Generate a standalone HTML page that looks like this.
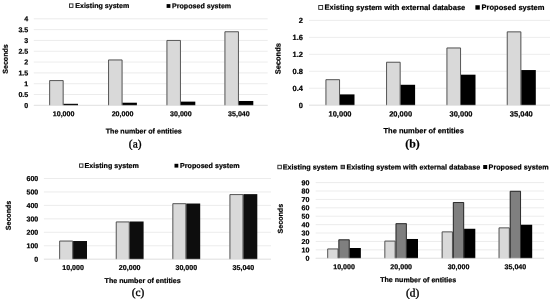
<!DOCTYPE html>
<html><head><meta charset="utf-8"><title>Charts</title>
<style>
html,body{margin:0;padding:0;background:#fff;}
body{width:550px;height:301px;overflow:hidden;}
svg{display:block;} text{text-rendering:geometricPrecision;stroke:#000;stroke-width:0.22px;stroke-linejoin:round;} svg{font-family:"Liberation Sans", Arial, sans-serif;font-weight:bold;fill:#000;}
</style></head><body>
<svg width="550" height="301" viewBox="0 0 550 301">
<rect x="0" y="0" width="550" height="301" fill="#fff"/>
<line x1="33.80" x2="267.70" y1="105.35" y2="105.35" stroke="#d9d9d9" stroke-width="0.5"/>
<line x1="33.80" x2="267.70" y1="94.53" y2="94.53" stroke="#d9d9d9" stroke-width="0.5"/>
<line x1="33.80" x2="267.70" y1="83.71" y2="83.71" stroke="#d9d9d9" stroke-width="0.5"/>
<line x1="33.80" x2="267.70" y1="72.89" y2="72.89" stroke="#d9d9d9" stroke-width="0.5"/>
<line x1="33.80" x2="267.70" y1="62.07" y2="62.07" stroke="#d9d9d9" stroke-width="0.5"/>
<line x1="33.80" x2="267.70" y1="51.26" y2="51.26" stroke="#d9d9d9" stroke-width="0.5"/>
<line x1="33.80" x2="267.70" y1="40.44" y2="40.44" stroke="#d9d9d9" stroke-width="0.5"/>
<line x1="33.80" x2="267.70" y1="29.62" y2="29.62" stroke="#d9d9d9" stroke-width="0.5"/>
<line x1="33.80" x2="267.70" y1="18.80" y2="18.80" stroke="#d9d9d9" stroke-width="0.5"/>
<text transform="translate(28.30,107.89) rotate(0.05)" font-size="7.1" text-anchor="end">0</text>
<text transform="translate(28.30,97.07) rotate(0.05)" font-size="7.1" text-anchor="end">0.5</text>
<text transform="translate(28.30,86.25) rotate(0.05)" font-size="7.1" text-anchor="end">1</text>
<text transform="translate(28.30,75.44) rotate(0.05)" font-size="7.1" text-anchor="end">1.5</text>
<text transform="translate(28.30,64.62) rotate(0.05)" font-size="7.1" text-anchor="end">2</text>
<text transform="translate(28.30,53.80) rotate(0.05)" font-size="7.1" text-anchor="end">2.5</text>
<text transform="translate(28.30,42.98) rotate(0.05)" font-size="7.1" text-anchor="end">3</text>
<text transform="translate(28.30,32.16) rotate(0.05)" font-size="7.1" text-anchor="end">3.5</text>
<text transform="translate(28.30,21.34) rotate(0.05)" font-size="7.1" text-anchor="end">4</text>
<rect x="49.20" y="80.14" width="14.40" height="25.20" fill="#d9d9d9"/>
<path d="M49.65 105.35V80.59H63.15V105.35" fill="none" stroke="#484848" stroke-width="0.9"/>
<rect x="63.60" y="103.80" width="14.40" height="1.55" fill="#000"/>
<text transform="translate(63.60,116.34) rotate(0.05)" font-size="7.1" text-anchor="middle">10,000</text>
<rect x="108.10" y="59.53" width="14.40" height="45.82" fill="#d9d9d9"/>
<path d="M108.55 105.35V59.98H122.05V105.35" fill="none" stroke="#484848" stroke-width="0.9"/>
<rect x="122.50" y="102.71" width="14.40" height="2.64" fill="#000"/>
<text transform="translate(122.50,116.34) rotate(0.05)" font-size="7.1" text-anchor="middle">20,000</text>
<rect x="166.50" y="40.00" width="14.40" height="65.35" fill="#d9d9d9"/>
<path d="M166.95 105.35V40.45H180.45V105.35" fill="none" stroke="#484848" stroke-width="0.9"/>
<rect x="180.90" y="101.63" width="14.40" height="3.72" fill="#000"/>
<text transform="translate(180.90,116.34) rotate(0.05)" font-size="7.1" text-anchor="middle">30,000</text>
<rect x="224.50" y="31.32" width="14.40" height="74.03" fill="#d9d9d9"/>
<path d="M224.95 105.35V31.77H238.45V105.35" fill="none" stroke="#484848" stroke-width="0.9"/>
<rect x="238.90" y="100.98" width="14.40" height="4.37" fill="#000"/>
<text transform="translate(238.90,116.34) rotate(0.05)" font-size="7.1" text-anchor="middle">35,040</text>
<line x1="33.80" x2="267.70" y1="105.35" y2="105.35" stroke="#d9d9d9" stroke-width="0.5"/>
<text transform="translate(7.64,59.00) rotate(-89.95)" font-size="7.1" text-anchor="middle">Seconds</text>
<text transform="translate(143.75,133.54) rotate(0.05)" font-size="7.1" text-anchor="middle">The number of entities</text>
<rect x="69.45" y="3.90" width="3.50" height="3.50" fill="#fff" stroke="#262626" stroke-width="0.9"/>
<text transform="translate(75.20,7.99) rotate(0.05)" font-size="7.1" text-anchor="start">Existing system</text>
<rect x="166.60" y="4.10" width="3.80" height="3.80" fill="#000"/>
<text transform="translate(172.00,8.19) rotate(0.05)" font-size="7.1" text-anchor="start">Proposed system</text>
<text transform="translate(135.20,147.40) rotate(0.05)" font-size="11.4" text-anchor="middle" font-family="'Liberation Serif', serif" font-weight="normal" style="stroke-width:0.35px">(a)</text>
<line x1="309.00" x2="550.00" y1="105.20" y2="105.20" stroke="#d9d9d9" stroke-width="0.5"/>
<line x1="309.00" x2="550.00" y1="88.24" y2="88.24" stroke="#d9d9d9" stroke-width="0.5"/>
<line x1="309.00" x2="550.00" y1="71.28" y2="71.28" stroke="#d9d9d9" stroke-width="0.5"/>
<line x1="309.00" x2="550.00" y1="54.32" y2="54.32" stroke="#d9d9d9" stroke-width="0.5"/>
<line x1="309.00" x2="550.00" y1="37.36" y2="37.36" stroke="#d9d9d9" stroke-width="0.5"/>
<line x1="309.00" x2="550.00" y1="20.40" y2="20.40" stroke="#d9d9d9" stroke-width="0.5"/>
<text transform="translate(302.90,107.89) rotate(0.05)" font-size="7.5" text-anchor="end">0</text>
<text transform="translate(302.90,90.93) rotate(0.05)" font-size="7.5" text-anchor="end">0.4</text>
<text transform="translate(302.90,73.97) rotate(0.05)" font-size="7.5" text-anchor="end">0.8</text>
<text transform="translate(302.90,57.00) rotate(0.05)" font-size="7.5" text-anchor="end">1.2</text>
<text transform="translate(302.90,40.05) rotate(0.05)" font-size="7.5" text-anchor="end">1.6</text>
<text transform="translate(302.90,23.08) rotate(0.05)" font-size="7.5" text-anchor="end">2</text>
<rect x="325.50" y="79.24" width="14.50" height="25.96" fill="#d9d9d9"/>
<path d="M325.95 105.20V79.69H339.55V105.20" fill="none" stroke="#484848" stroke-width="0.9"/>
<rect x="340.00" y="94.39" width="14.50" height="10.81" fill="#000"/>
<text transform="translate(340.00,116.59) rotate(0.05)" font-size="7.5" text-anchor="middle">10,000</text>
<rect x="386.10" y="61.80" width="14.50" height="43.40" fill="#d9d9d9"/>
<path d="M386.55 105.20V62.25H400.15V105.20" fill="none" stroke="#484848" stroke-width="0.9"/>
<rect x="400.60" y="84.78" width="14.50" height="20.42" fill="#000"/>
<text transform="translate(400.60,116.59) rotate(0.05)" font-size="7.5" text-anchor="middle">20,000</text>
<rect x="446.50" y="47.54" width="14.50" height="57.66" fill="#d9d9d9"/>
<path d="M446.95 105.20V47.99H460.55V105.20" fill="none" stroke="#484848" stroke-width="0.9"/>
<rect x="461.00" y="74.69" width="14.50" height="30.51" fill="#000"/>
<text transform="translate(461.00,116.59) rotate(0.05)" font-size="7.5" text-anchor="middle">30,000</text>
<rect x="506.80" y="31.42" width="14.50" height="73.78" fill="#d9d9d9"/>
<path d="M507.25 105.20V31.87H520.85V105.20" fill="none" stroke="#484848" stroke-width="0.9"/>
<rect x="521.30" y="70.05" width="14.50" height="35.15" fill="#000"/>
<text transform="translate(521.30,116.59) rotate(0.05)" font-size="7.5" text-anchor="middle">35,040</text>
<line x1="309.00" x2="550.00" y1="105.20" y2="105.20" stroke="#d9d9d9" stroke-width="0.5"/>
<text transform="translate(280.58,58.70) rotate(-89.95)" font-size="7.5" text-anchor="middle">Seconds</text>
<text transform="translate(423.75,133.28) rotate(0.05)" font-size="7.5" text-anchor="middle">The number of entities</text>
<rect x="318.75" y="5.50" width="3.90" height="3.90" fill="#fff" stroke="#262626" stroke-width="0.9"/>
<text transform="translate(324.50,9.86) rotate(0.05)" font-size="7.57" text-anchor="start">Existing system with external database</text>
<rect x="475.40" y="5.25" width="4.40" height="4.40" fill="#000"/>
<text transform="translate(481.40,9.86) rotate(0.05)" font-size="7.57" text-anchor="start">Proposed system</text>
<text transform="translate(412.50,147.40) rotate(0.05)" font-size="11.8" text-anchor="middle" font-family="'Liberation Serif', serif" font-weight="bold" style="stroke-width:0.2px">(b)</text>
<line x1="43.90" x2="271.00" y1="259.20" y2="259.20" stroke="#d9d9d9" stroke-width="0.5"/>
<line x1="43.90" x2="271.00" y1="245.75" y2="245.75" stroke="#d9d9d9" stroke-width="0.5"/>
<line x1="43.90" x2="271.00" y1="232.30" y2="232.30" stroke="#d9d9d9" stroke-width="0.5"/>
<line x1="43.90" x2="271.00" y1="218.85" y2="218.85" stroke="#d9d9d9" stroke-width="0.5"/>
<line x1="43.90" x2="271.00" y1="205.40" y2="205.40" stroke="#d9d9d9" stroke-width="0.5"/>
<line x1="43.90" x2="271.00" y1="191.95" y2="191.95" stroke="#d9d9d9" stroke-width="0.5"/>
<line x1="43.90" x2="271.00" y1="178.50" y2="178.50" stroke="#d9d9d9" stroke-width="0.5"/>
<text transform="translate(38.30,261.74) rotate(0.05)" font-size="7.1" text-anchor="end">0</text>
<text transform="translate(38.30,248.29) rotate(0.05)" font-size="7.1" text-anchor="end">100</text>
<text transform="translate(38.30,234.84) rotate(0.05)" font-size="7.1" text-anchor="end">200</text>
<text transform="translate(38.30,221.39) rotate(0.05)" font-size="7.1" text-anchor="end">300</text>
<text transform="translate(38.30,207.94) rotate(0.05)" font-size="7.1" text-anchor="end">400</text>
<text transform="translate(38.30,194.49) rotate(0.05)" font-size="7.1" text-anchor="end">500</text>
<text transform="translate(38.30,181.04) rotate(0.05)" font-size="7.1" text-anchor="end">600</text>
<rect x="59.20" y="240.62" width="13.90" height="18.58" fill="#d9d9d9"/>
<path d="M59.65 259.20V241.07H72.65V259.20" fill="none" stroke="#484848" stroke-width="0.9"/>
<rect x="73.10" y="241.02" width="13.90" height="18.18" fill="#0d0d0d"/>
<text transform="translate(73.10,269.99) rotate(0.05)" font-size="7.1" text-anchor="middle">10,000</text>
<rect x="115.80" y="221.50" width="13.90" height="37.70" fill="#d9d9d9"/>
<path d="M116.25 259.20V221.95H129.25V259.20" fill="none" stroke="#484848" stroke-width="0.9"/>
<rect x="129.70" y="221.50" width="13.90" height="37.70" fill="#0d0d0d"/>
<text transform="translate(129.70,269.99) rotate(0.05)" font-size="7.1" text-anchor="middle">20,000</text>
<rect x="172.40" y="203.25" width="13.90" height="55.94" fill="#d9d9d9"/>
<path d="M172.85 259.20V203.70H185.85V259.20" fill="none" stroke="#484848" stroke-width="0.9"/>
<rect x="186.30" y="203.52" width="13.90" height="55.68" fill="#0d0d0d"/>
<text transform="translate(186.30,269.99) rotate(0.05)" font-size="7.1" text-anchor="middle">30,000</text>
<rect x="229.50" y="194.13" width="13.90" height="65.07" fill="#d9d9d9"/>
<path d="M229.95 259.20V194.58H242.95V259.20" fill="none" stroke="#484848" stroke-width="0.9"/>
<rect x="243.40" y="194.13" width="13.90" height="65.07" fill="#0d0d0d"/>
<text transform="translate(243.40,269.99) rotate(0.05)" font-size="7.1" text-anchor="middle">35,040</text>
<line x1="43.90" x2="271.00" y1="259.20" y2="259.20" stroke="#d9d9d9" stroke-width="0.5"/>
<text transform="translate(10.84,215.50) rotate(-89.95)" font-size="7.1" text-anchor="middle">Seconds</text>
<text transform="translate(142.60,282.94) rotate(0.05)" font-size="7.1" text-anchor="middle">The number of entities</text>
<rect x="79.55" y="163.90" width="3.40" height="3.40" fill="#fff" stroke="#262626" stroke-width="0.9"/>
<text transform="translate(84.50,167.96) rotate(0.05)" font-size="7.15" text-anchor="start">Existing system</text>
<rect x="174.50" y="163.80" width="3.80" height="3.80" fill="#000"/>
<text transform="translate(180.00,167.96) rotate(0.05)" font-size="7.15" text-anchor="start">Proposed system</text>
<text transform="translate(138.10,296.00) rotate(0.05)" font-size="11.4" text-anchor="middle" font-family="'Liberation Serif', serif" font-weight="normal" style="stroke-width:0.35px">(c)</text>
<line x1="315.70" x2="544.10" y1="258.25" y2="258.25" stroke="#d9d9d9" stroke-width="0.5"/>
<line x1="315.70" x2="544.10" y1="249.84" y2="249.84" stroke="#d9d9d9" stroke-width="0.5"/>
<line x1="315.70" x2="544.10" y1="241.44" y2="241.44" stroke="#d9d9d9" stroke-width="0.5"/>
<line x1="315.70" x2="544.10" y1="233.03" y2="233.03" stroke="#d9d9d9" stroke-width="0.5"/>
<line x1="315.70" x2="544.10" y1="224.63" y2="224.63" stroke="#d9d9d9" stroke-width="0.5"/>
<line x1="315.70" x2="544.10" y1="216.22" y2="216.22" stroke="#d9d9d9" stroke-width="0.5"/>
<line x1="315.70" x2="544.10" y1="207.82" y2="207.82" stroke="#d9d9d9" stroke-width="0.5"/>
<line x1="315.70" x2="544.10" y1="199.41" y2="199.41" stroke="#d9d9d9" stroke-width="0.5"/>
<line x1="315.70" x2="544.10" y1="191.01" y2="191.01" stroke="#d9d9d9" stroke-width="0.5"/>
<line x1="315.70" x2="544.10" y1="182.60" y2="182.60" stroke="#d9d9d9" stroke-width="0.5"/>
<text transform="translate(309.50,260.79) rotate(0.05)" font-size="7.1" text-anchor="end">0</text>
<text transform="translate(309.50,252.39) rotate(0.05)" font-size="7.1" text-anchor="end">10</text>
<text transform="translate(309.50,243.98) rotate(0.05)" font-size="7.1" text-anchor="end">20</text>
<text transform="translate(309.50,235.58) rotate(0.05)" font-size="7.1" text-anchor="end">30</text>
<text transform="translate(309.50,227.17) rotate(0.05)" font-size="7.1" text-anchor="end">40</text>
<text transform="translate(309.50,218.76) rotate(0.05)" font-size="7.1" text-anchor="end">50</text>
<text transform="translate(309.50,210.36) rotate(0.05)" font-size="7.1" text-anchor="end">60</text>
<text transform="translate(309.50,201.95) rotate(0.05)" font-size="7.1" text-anchor="end">70</text>
<text transform="translate(309.50,193.55) rotate(0.05)" font-size="7.1" text-anchor="end">80</text>
<text transform="translate(309.50,185.14) rotate(0.05)" font-size="7.1" text-anchor="end">90</text>
<rect x="327.25" y="248.51" width="11.20" height="9.74" fill="#d9d9d9"/>
<path d="M327.70 258.25V248.96H338.00V258.25" fill="none" stroke="#484848" stroke-width="0.9"/>
<rect x="338.45" y="239.39" width="11.20" height="18.86" fill="#7f7f7f"/>
<path d="M338.90 258.25V239.84H349.20V258.25" fill="none" stroke="#262626" stroke-width="0.9"/>
<rect x="349.65" y="248.01" width="11.20" height="10.24" fill="#000"/>
<text transform="translate(344.05,269.24) rotate(0.05)" font-size="7.1" text-anchor="middle">10,000</text>
<rect x="384.40" y="240.65" width="11.20" height="17.60" fill="#d9d9d9"/>
<path d="M384.85 258.25V241.10H395.15V258.25" fill="none" stroke="#484848" stroke-width="0.9"/>
<rect x="395.60" y="223.25" width="11.20" height="35.00" fill="#7f7f7f"/>
<path d="M396.05 258.25V223.70H406.35V258.25" fill="none" stroke="#262626" stroke-width="0.9"/>
<rect x="406.80" y="238.98" width="11.20" height="19.27" fill="#000"/>
<text transform="translate(401.20,269.24) rotate(0.05)" font-size="7.1" text-anchor="middle">20,000</text>
<rect x="441.70" y="231.44" width="11.20" height="26.81" fill="#d9d9d9"/>
<path d="M442.15 258.25V231.89H452.45V258.25" fill="none" stroke="#484848" stroke-width="0.9"/>
<rect x="452.90" y="202.08" width="11.20" height="56.17" fill="#7f7f7f"/>
<path d="M453.35 258.25V202.53H463.65V258.25" fill="none" stroke="#262626" stroke-width="0.9"/>
<rect x="464.10" y="228.77" width="11.20" height="29.48" fill="#000"/>
<text transform="translate(458.50,269.24) rotate(0.05)" font-size="7.1" text-anchor="middle">30,000</text>
<rect x="498.60" y="227.43" width="11.20" height="30.82" fill="#d9d9d9"/>
<path d="M499.05 258.25V227.88H509.35V258.25" fill="none" stroke="#484848" stroke-width="0.9"/>
<rect x="509.80" y="190.87" width="11.20" height="67.38" fill="#7f7f7f"/>
<path d="M510.25 258.25V191.32H520.55V258.25" fill="none" stroke="#262626" stroke-width="0.9"/>
<rect x="521.00" y="224.75" width="11.20" height="33.50" fill="#000"/>
<text transform="translate(515.40,269.24) rotate(0.05)" font-size="7.1" text-anchor="middle">35,040</text>
<line x1="315.70" x2="544.10" y1="258.25" y2="258.25" stroke="#d9d9d9" stroke-width="0.5"/>
<text transform="translate(282.84,218.70) rotate(-89.95)" font-size="7.1" text-anchor="middle">Seconds</text>
<text transform="translate(418.20,282.14) rotate(0.05)" font-size="7.1" text-anchor="middle">The number of entities</text>
<rect x="277.85" y="165.25" width="3.50" height="3.50" fill="#fff" stroke="#262626" stroke-width="0.9"/>
<text transform="translate(282.80,169.38) rotate(0.05)" font-size="7.2" text-anchor="start">Existing system</text>
<rect x="341.05" y="165.30" width="3.40" height="3.40" fill="#7f7f7f" stroke="#262626" stroke-width="0.9"/>
<text transform="translate(346.40,169.38) rotate(0.05)" font-size="7.2" text-anchor="start">Existing system with external database</text>
<rect x="483.20" y="165.00" width="4.00" height="4.00" fill="#000"/>
<text transform="translate(488.60,169.38) rotate(0.05)" font-size="7.2" text-anchor="start">Proposed system</text>
<text transform="translate(412.70,296.60) rotate(0.05)" font-size="11.4" text-anchor="middle" font-family="'Liberation Serif', serif" font-weight="normal" style="stroke-width:0.35px">(d)</text>
</svg>
</body></html>
